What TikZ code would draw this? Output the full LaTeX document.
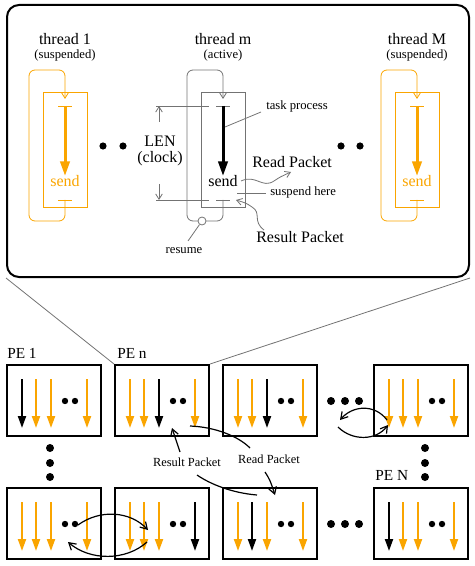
\documentclass[tikz,border=0pt]{standalone}
\usepackage{fontspec}
\setmainfont{Liberation Serif}
\usetikzlibrary{arrows.meta}
\definecolor{peorange}{RGB}{250,165,0}
\definecolor{tgray}{RGB}{115,115,115}
\tikzset{
  big/.style={font=\fontsize{12}{14}\selectfont, inner sep=0pt},
  small/.style={font=\fontsize{9.5}{11}\selectfont, inner sep=0pt},
  pelabel/.style={font=\fontsize{11.5}{13}\selectfont, inner sep=0pt},
  bsmall/.style={font=\fontsize{9.3}{11}\selectfont, inner sep=1pt, fill=white},
  thinline/.style={line width=0.6pt},
  barb/.style={-{Straight Barb[length=4pt,width=5pt]}},
  mainarrow/.style={line width=2.25pt, -{Triangle[length=11pt,width=7pt]}},
  pebox/.style={draw, line width=1.5pt, minimum width=70.5pt, minimum height=53.25pt, inner sep=0pt},
  pearrow/.style={line width=1.5pt, -{Triangle[length=9pt,width=6pt]}},
  swaparrow/.style={line width=0.9pt, -{Straight Barb[length=5pt,width=6pt]}},
  zoomline/.style={draw=tgray, line width=0.6pt},
  leader/.style={draw=tgray, line width=0.6pt}
}
% #1 name, #2 x, #3 line colour, #4 title, #5 subtitle, #6 main arrow colour, #7 send colour
\newcommand\Thread[7]{%
  \node[big,anchor=base] (#1t) at (#2,45) {#4};
  \node[small,anchor=base] (#1s) at (#2,59) {#5};
  \node[draw=#3,thinline,minimum width=33pt,minimum height=86.25pt,inner sep=0pt] (#1b) at (#2,149.5) {};
  \coordinate (#1top) at (#2,106);
  \coordinate (#1bot) at (#2,200);
  \coordinate (#1tip) at (#2,176);
  \coordinate (#1in) at (#2,99);
  \draw[#3,thinline] ({#2-7},106) -- ({#2+7},106);
  \draw[#3,thinline] ({#2-7},200) -- ({#2+7},200);
  \draw[#3,thinline,rounded corners=4.5pt,barb] (#1bot) -- (#2,221) -- ({#2-36},221) -- ({#2-36},70) -- (#2,70) -- (#1in);
  \draw[#6,mainarrow] (#1top) -- (#1tip);
  \node[big,anchor=base,text=#7] (#1send) at (#2,187) {send};
}
% #1 name, #2 left x, #3 top y, #4..#7 arrow colours
\newcommand\PEbox[7]{%
  \node[pebox] (#1) at ({#2+47},{#3+35.5}) {};
  \draw[pearrow,#4] ({#2+15},{#3+14}) -- ({#2+15},{#3+63});
  \draw[pearrow,#5] ({#2+29},{#3+14}) -- ({#2+29},{#3+63});
  \draw[pearrow,#6] ({#2+44},{#3+14}) -- ({#2+44},{#3+63});
  \draw[pearrow,#7] ({#2+80},{#3+14}) -- ({#2+80},{#3+63});
  \fill ({#2+58},{#3+36}) circle (2.4pt);
  \fill ({#2+68},{#3+36}) circle (2.4pt);
}
\begin{document}
\begin{tikzpicture}[x=0.75pt,y=-0.75pt]
\useasboundingbox (0,0) rectangle (474,566);

% ---------- top panel ----------
\node[draw, line width=1.5pt, rounded corners=9pt, minimum width=346.5pt, minimum height=204pt, inner sep=0pt] (panel) at (238,141) {};

\Thread{ta}{65}{peorange}{thread 1}{(suspended)}{peorange}{peorange}
\Thread{tm}{223}{tgray}{thread m}{(active)}{black}{black}
\Thread{tz}{417}{peorange}{thread M}{(suspended)}{peorange}{peorange}

% dots between threads
\fill (103,146) circle (2.7pt);
\fill (123,146) circle (2.7pt);
\fill (341,146) circle (2.7pt);
\fill (360,146) circle (2.7pt);

% LEN dimension
\coordinate (lenA) at (156,106); \coordinate (lenB) at (209,106);
\coordinate (lenC) at (156,200); \coordinate (lenD) at (209,200);
\draw[tgray,thinline] (lenA) -- (lenB);
\draw[tgray,thinline] (lenC) -- (lenD);
\coordinate (lenU) at (159,122); \coordinate (lenUt) at (159,106);
\coordinate (lenL) at (159,184); \coordinate (lenLt) at (159,200);
\draw[tgray,thinline,barb] (lenU) -- (lenUt);
\draw[tgray,thinline,barb] (lenL) -- (lenLt);
\node[big,anchor=base] (len) at (160,147) {LEN};
\node[big,anchor=base] (clock) at (160,163) {(clock)};

% labels around thread m
\node[small,anchor=base west] (taskp) at (266,110) {task process};
\node[big,anchor=base west] (readp) at (252,168) {Read Packet};
\node[small,anchor=base west] (susp) at (270,196) {suspend here};
\node[big,anchor=base west] (resp) at (256,243) {Result Packet};
\node[small,anchor=base] (resume) at (184,253) {resume};

\coordinate (tpA) at (225,127); \coordinate (tpB) at (261,112);
\draw[leader] (tpA) -- (tpB);
\coordinate (spA) at (237,193); \coordinate (spB) at (266,193);
\draw[leader] (spA) -- (spB);
\coordinate (rdA) at (241,181); \coordinate (rdB) at (291,172);
\draw[leader,barb] (rdA) .. controls (256,174) and (262,189) .. (274,181) .. controls (280,177) .. (rdB);
\coordinate (rsA) at (264,230); \coordinate (rsB) at (236,200);
\draw[leader,barb] (rsA) .. controls (252,221) and (262,213) .. (252,207) .. controls (246,203) .. (rsB);
\node[draw=tgray, thinline, fill=white, circle, minimum size=6pt, inner sep=0pt] (rescirc) at (202,221) {};
\coordinate (rsL) at (188,241);
\draw[leader] (rescirc) -- (rsL);

% ---------- PE boxes ----------
\PEbox{pe11}{7}{365}{black}{peorange}{peorange}{peorange}
\PEbox{pe12}{115}{365}{peorange}{peorange}{black}{peorange}
\PEbox{pe13}{223}{365}{peorange}{peorange}{black}{peorange}
\PEbox{pe14}{374}{365}{peorange}{peorange}{peorange}{peorange}
\PEbox{pe21}{7}{488}{peorange}{peorange}{peorange}{peorange}
\PEbox{pe22}{115}{488}{peorange}{peorange}{peorange}{black}
\PEbox{pe23}{223}{488}{peorange}{black}{peorange}{peorange}
\PEbox{pe24}{374}{488}{black}{peorange}{peorange}{peorange}

\node[pelabel,anchor=base west] (lpe1) at (7,358) {PE 1};
\node[pelabel,anchor=base west] (lpen) at (117,358) {PE n};
\node[pelabel,anchor=base west] (lpeN) at (375,480) {PE N};

% zoom lines
\draw[zoomline] (panel.south west) -- (pe12.north west);
\draw[zoomline] (pe12.north east) -- (panel.south east);

% ellipsis dots
\foreach \xx in {331,345,359} {
  \fill (\xx,401) circle (3pt);
  \fill (\xx,524) circle (3pt);
}
\foreach \yy in {448,463,477} {
  \fill (50,\yy) circle (3pt);
  \fill (425,\yy) circle (3pt);
}

% swap arrows row 1
\coordinate (s1a) at (387,420); \coordinate (s1b) at (340,420);
\coordinate (s1c) at (338,427); \coordinate (s1d) at (388,425);
\draw[swaparrow] (s1a) .. controls (375,404) and (353,405) .. (s1b);
\draw[swaparrow] (s1c) .. controls (352,441) and (376,441) .. (s1d);
% swap arrows row 2
\coordinate (s2a) at (78,525); \coordinate (s2b) at (148,530);
\coordinate (s2c) at (147,542); \coordinate (s2d) at (68,542);
\draw[swaparrow] (s2a) .. controls (100,509) and (130,511) .. (s2b);
\draw[swaparrow] (s2c) .. controls (126,561) and (90,561) .. (s2d);

% Result / Read packets between PEs
\node[bsmall] (rpb) at (187,462) {Result Packet};
\node[bsmall] (rdb) at (269,459) {Read Packet};
\coordinate (rpS) at (257,495); \coordinate (rpM) at (197,475);
\coordinate (rpN) at (180,452); \coordinate (rpT) at (172,428);
\draw[line width=0.9pt] (rpS) .. controls (232,493) and (210,484) .. (rpM);
\draw[swaparrow] (rpN) .. controls (177,443) .. (rpT);
\coordinate (rdS) at (190,426); \coordinate (rdM) at (250,448);
\coordinate (rdN) at (265,472); \coordinate (rdT) at (275,495);
\draw[line width=0.9pt] (rdS) .. controls (215,427) and (238,436) .. (rdM);
\draw[swaparrow] (rdN) .. controls (270,480) .. (rdT);
\end{tikzpicture}
\end{document}
